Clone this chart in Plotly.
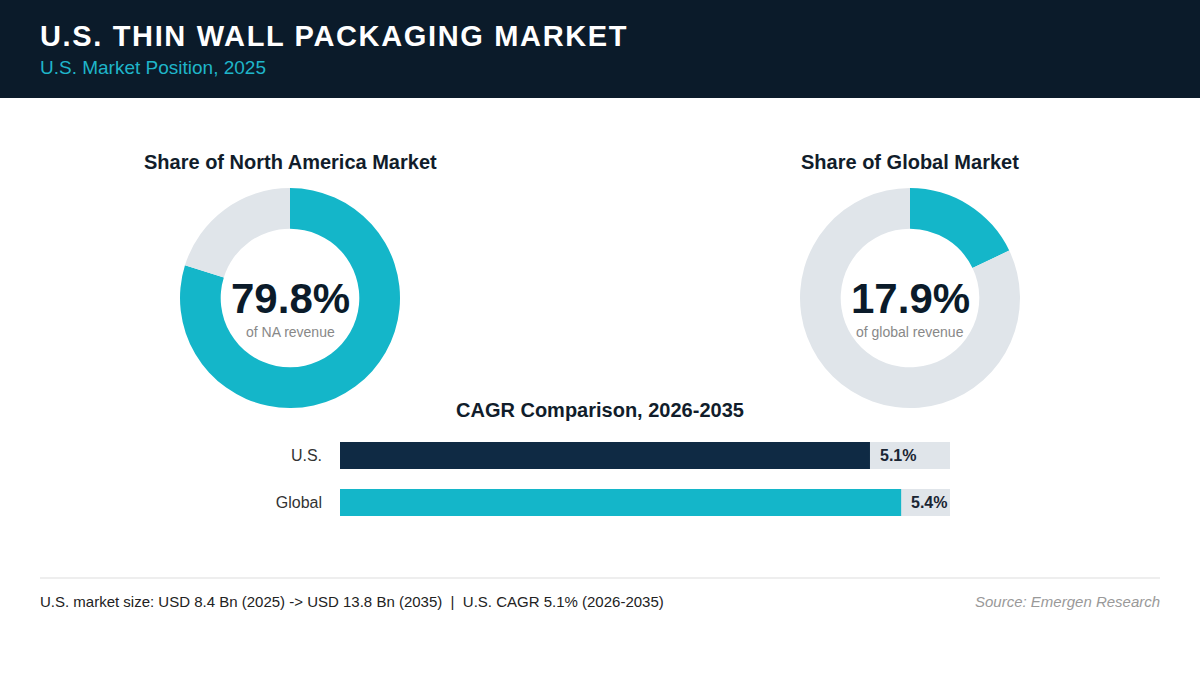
import plotly.graph_objects as go

W, H = 1200, 675

# data
na_share = [79.8, 20.2]
global_share = [17.9, 82.1]
share_labels = ["U.S.", "Rest"]
cagr_regions = ["U.S.", "Global"]
cagr_values = [5.1, 5.4]
cagr_axis_max = 5.87

TEAL = "#14b6c9"
LIGHT = "#e0e5ea"
NAVY = "#0f2a44"
HEADER = "#0b1b2a"
FONT = "Liberation Sans, Arial, sans-serif"


def py(px):
    # pixel from top -> paper y
    return 1 - px / H


def pxx(px):
    return px / W


fig = go.Figure()

# donuts
for vals, cx in [(na_share, 290), (global_share, 910)]:
    fig.add_trace(go.Pie(
        values=vals, labels=share_labels, hole=0.63, sort=False,
        direction="clockwise", rotation=0,
        marker=dict(colors=[TEAL, LIGHT], line=dict(width=0)),
        textinfo="none", hoverinfo="skip", showlegend=False,
        domain=dict(x=[pxx(cx - 110), pxx(cx + 110)], y=[py(408), py(188)]),
    ))

# CAGR bars: track + values
fig.add_trace(go.Bar(
    y=cagr_regions, x=[cagr_axis_max] * len(cagr_regions), orientation="h",
    marker=dict(color=LIGHT, line=dict(width=0)), width=0.574,
    hoverinfo="skip", showlegend=False,
))
fig.add_trace(go.Bar(
    y=cagr_regions, x=cagr_values, orientation="h",
    marker=dict(color=[NAVY, TEAL], line=dict(width=0)), width=0.574,
    hoverinfo="skip", showlegend=False,
))

for reg, v in zip(cagr_regions, cagr_values):
    fig.add_annotation(x=v, y=reg, xref="x", yref="y", text=f"<b>{v}%</b>",
                       showarrow=False, xanchor="left", xshift=8,
                       font=dict(size=16, color="#1a2533", family=FONT))

fig.update_layout(
    width=W, height=H,
    margin=dict(l=0, r=0, t=0, b=0),
    paper_bgcolor="white", plot_bgcolor="white",
    barmode="overlay",
    font=dict(family=FONT),
    xaxis=dict(domain=[pxx(340), pxx(950)], range=[0, cagr_axis_max],
               visible=False, fixedrange=True),
    yaxis=dict(domain=[py(526), py(432)], range=[1.5, -0.5],
               showgrid=False, zeroline=False, showline=False, ticks="",
               ticklabelstandoff=17, fixedrange=True,
               tickfont=dict(size=16, color="#333333", family=FONT)),
)

# header band
fig.add_shape(type="rect", xref="paper", yref="paper", x0=0, x1=1, y0=py(98), y1=1,
              fillcolor=HEADER, line=dict(width=0), layer="below")
# footer rule
fig.add_shape(type="line", xref="paper", yref="paper", x0=pxx(40), x1=pxx(1160),
              y0=py(578), y1=py(578), line=dict(color="#dddddd", width=1))


def text(x, y, s, size, color, anchor="center", bold=False, italic=False):
    if bold:
        s = f"<b>{s}</b>"
    if italic:
        s = f"<i>{s}</i>"
    # annotations carry ~2px padding; compensate for left/right anchors
    if anchor == "left":
        x -= 2
    elif anchor == "right":
        x += 2
    fig.add_annotation(x=pxx(x), y=py(y), xref="paper", yref="paper", text=s,
                       showarrow=False, xanchor=anchor, yanchor="middle",
                       font=dict(size=size, color=color, family=FONT))


text(40, 36, '<span style="letter-spacing:1.65px">U.S. THIN WALL PACKAGING MARKET</span>',
     29, "white", "left", bold=True)
text(40, 67, "U.S. Market Position, 2025", 19, "#1fb5c9", "left")

text(290, 162, "Share of North America Market", 20, "#111d2b", bold=True)
text(910, 162, "Share of Global Market", 20, "#111d2b", bold=True)

text(290, 298, f"{na_share[0]}%", 42, HEADER, bold=True)
text(290, 332, "of NA revenue", 14, "#888888")
text(910, 298, f"{global_share[0]}%", 42, HEADER, bold=True)
text(910, 332, "of global revenue", 14, "#888888")

text(600, 410, "CAGR Comparison, 2026-2035", 20, "#111d2b", bold=True)

text(40, 601, "U.S. market size: USD 8.4 Bn (2025) -> USD 13.8 Bn (2035)  |  U.S. CAGR 5.1% (2026-2035)",
     15, "#222222", "left")
text(1160, 601, "Source: Emergen Research", 15, "#999999", "right", italic=True)

fig.write_html("out.html", config={"displayModeBar": False},
               post_script="document.body.style.margin='0';")
